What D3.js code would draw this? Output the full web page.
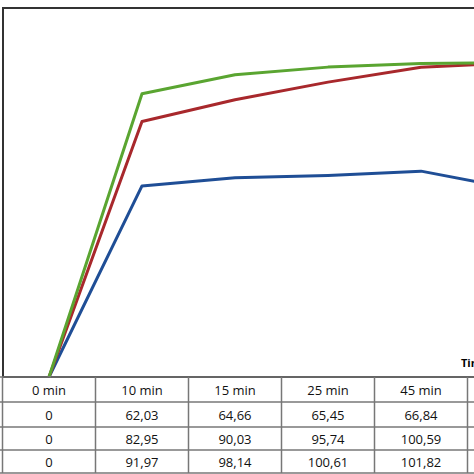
<!DOCTYPE html><html><head><meta charset="utf-8">
<script src="https://cdn.jsdelivr.net/npm/d3@7"></script>
<style>body{margin:0;background:#fff}</style></head><body>
<svg id="c" width="474" height="474"></svg>
<script>
const categories=["0 min","10 min","15 min","25 min","45 min","60 min"];
const blue=[0,62.03,64.66,65.45,66.84,61.1];
const red=[0,82.95,90.03,95.74,100.59,102.0];
const green=[0,91.97,98.14,100.61,101.82,102.0];
const shown=5;
const svg=d3.select("#c");
const x=d3.scaleLinear().domain([0,1]).range([49,142]);
const y=d3.scaleLinear().domain([0,100]).range([377,69]);
const colW=x(1)-x(0);
// frame
svg.append("rect").attr("x",3).attr("y",8).attr("width",520).attr("height",369)
 .attr("fill","#fff").attr("stroke","#333").attr("stroke-width",2);
const series=[[blue,"#1f4e96"],[red,"#a8282c"],[green,"#5aa531"]];
const line=d3.line().x((d,i)=>x(i)).y(d=>y(d));
series.forEach(([v,c])=>svg.append("path").attr("d",line(v)).attr("fill","none")
 .attr("stroke",c).attr("stroke-width",3).attr("stroke-linejoin","round"));
svg.append("text").attr("x",461).attr("y",367).attr("font-family","Open Sans, sans-serif")
 .attr("font-size",11).attr("font-weight","bold").text("Time");
// table
const rowsY=[377,402,427,450,473];
const g=svg.append("g");
rowsY.forEach(yy=>g.append("line").attr("x1",0).attr("x2",474).attr("y1",yy).attr("y2",yy).attr("stroke","#777").attr("stroke-width",1.5));
for(let i=0;i<=shown;i++){const xx=x(i)-colW/2;
 g.append("line").attr("x1",xx).attr("x2",xx).attr("y1",377).attr("y2",473).attr("stroke","#777").attr("stroke-width",1.5);}
const fmt=v=>v===0?"0":v.toFixed(2).replace(".",",");
const rows=[categories,blue.map(fmt),red.map(fmt),green.map(fmt)];
rows.forEach((r,ri)=>r.forEach((t,i)=>{
 g.append("text").attr("x",x(i)).attr("y",(rowsY[ri]+rowsY[ri+1])/2+5).attr("text-anchor","middle")
  .attr("font-family","Open Sans, sans-serif").attr("font-size",13).attr("fill","#111").text(t);
}));
</script></body></html>
